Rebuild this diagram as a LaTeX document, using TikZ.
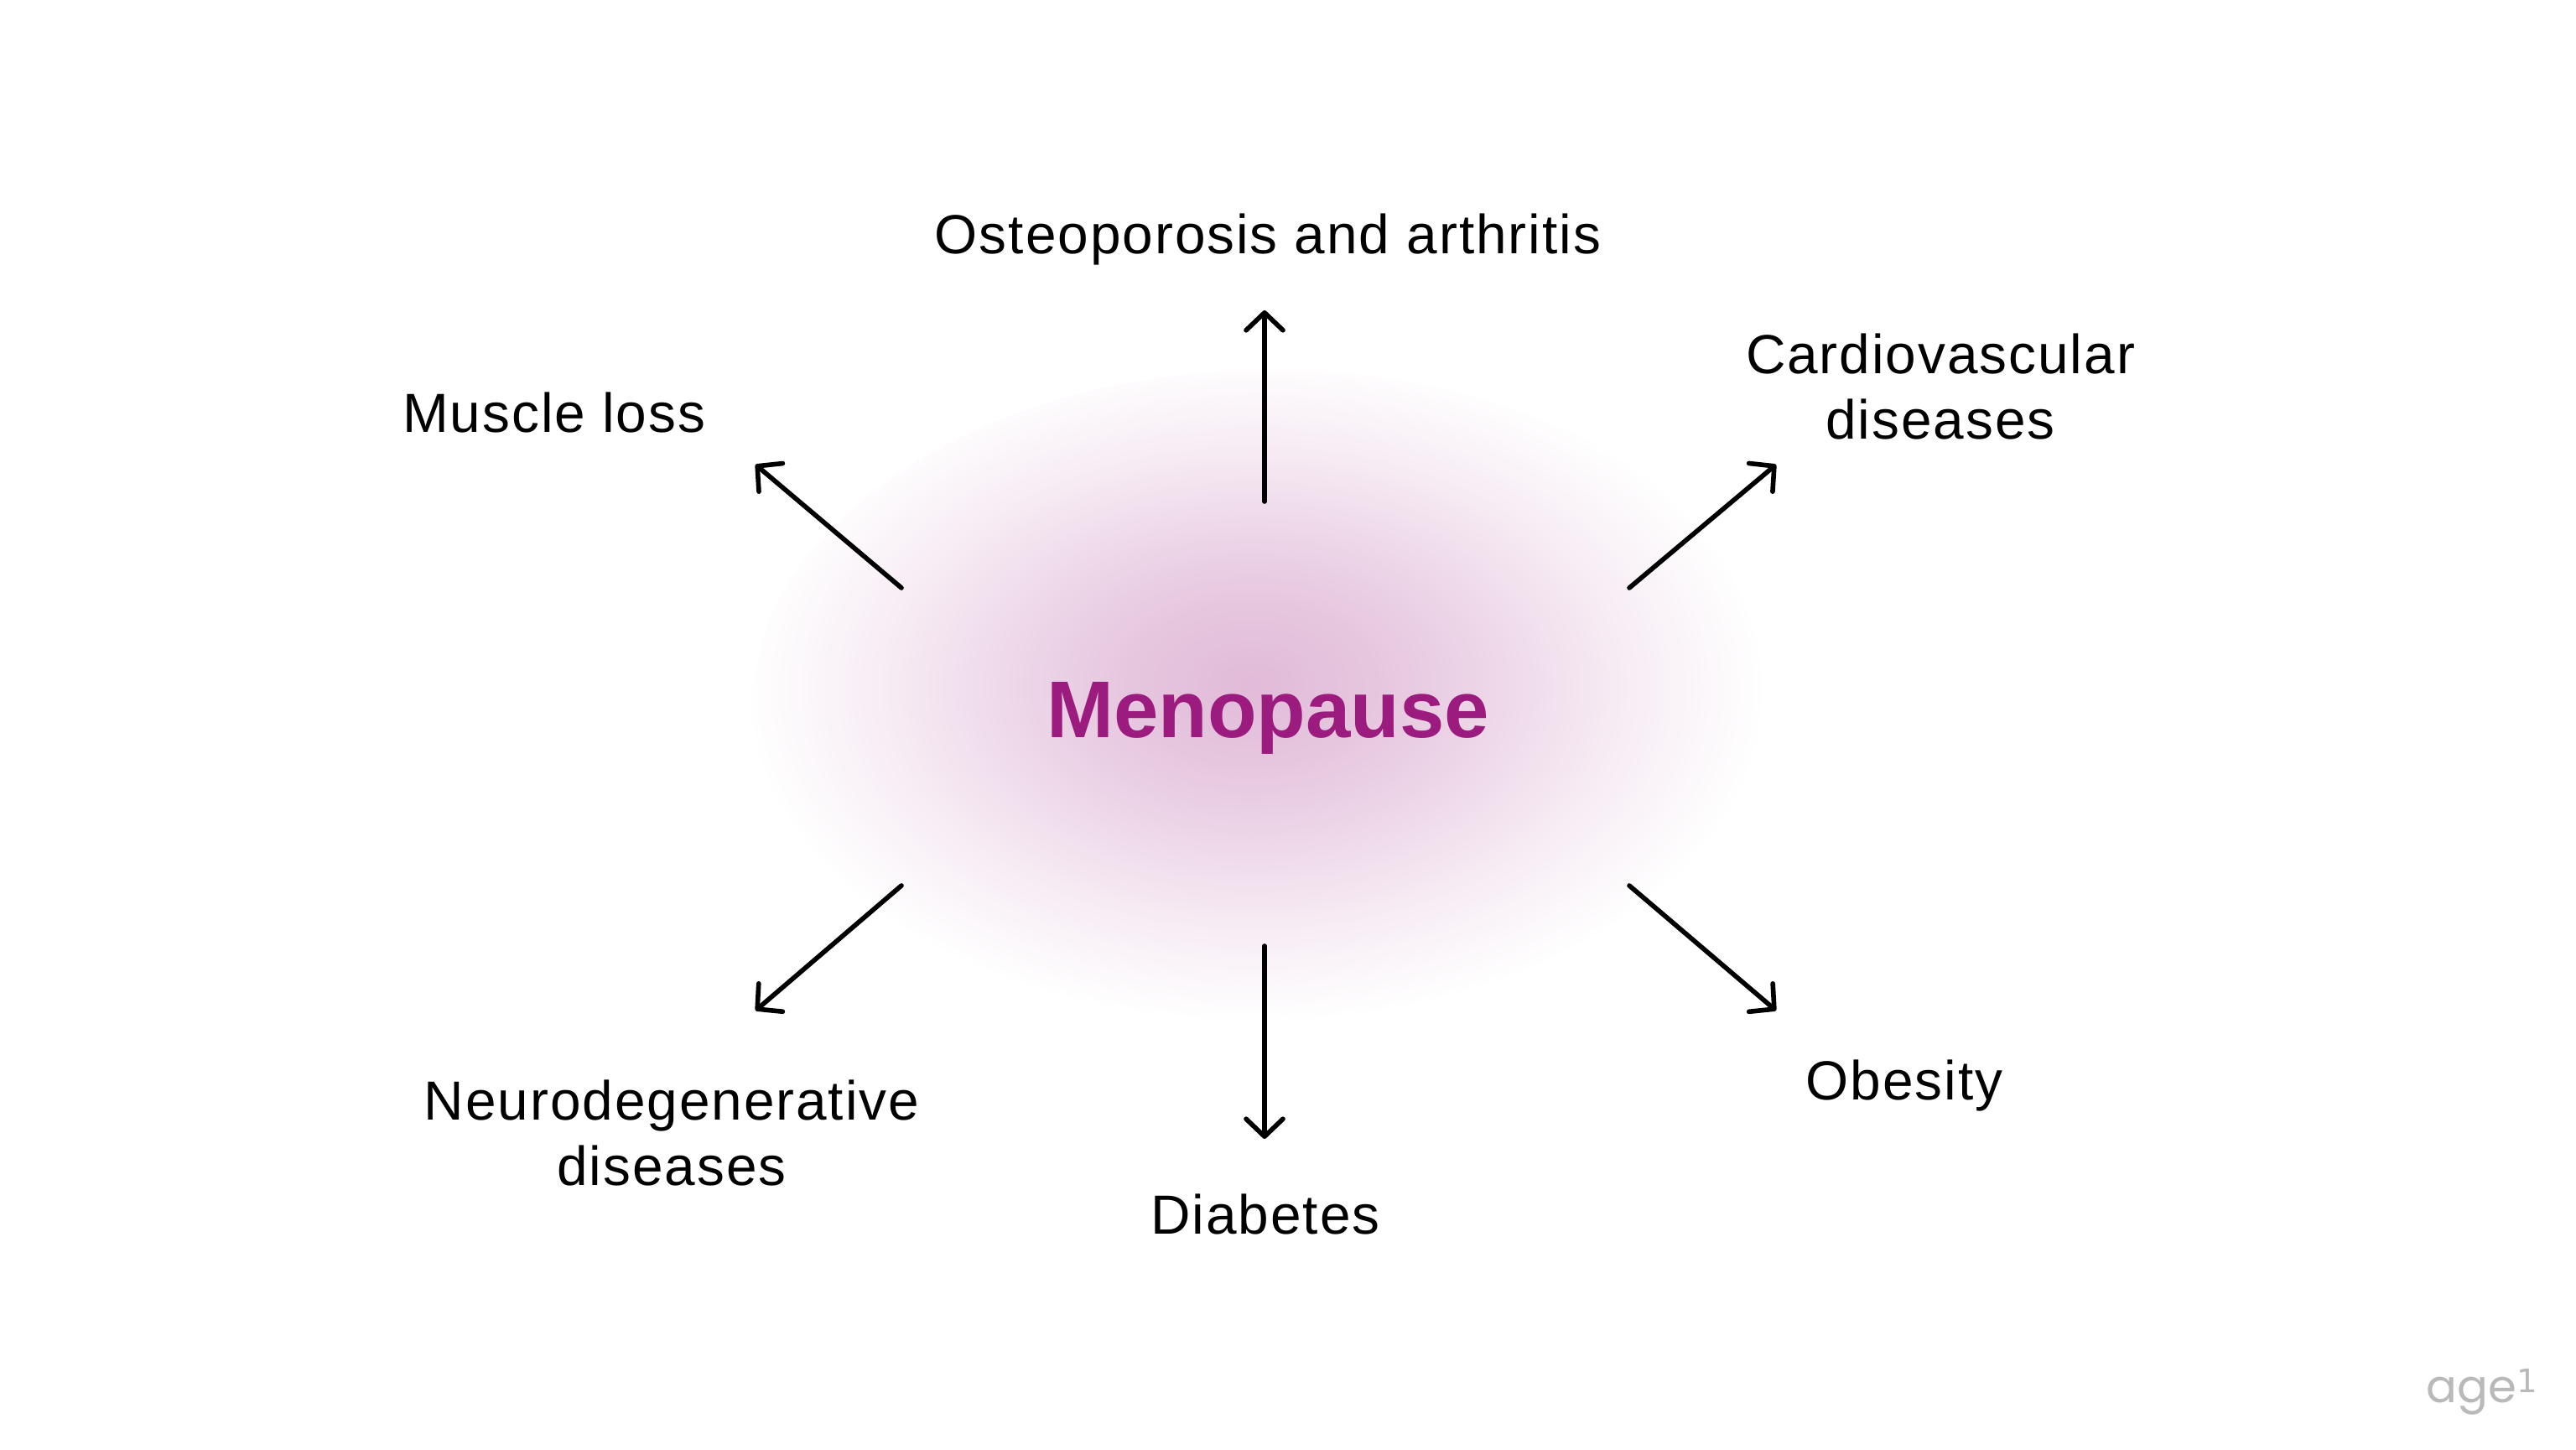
\documentclass[tikz,border=0pt]{standalone}
\usepackage{fontspec}
\setmainfont{Liberation Sans}
\newfontfamily\labelfont[LetterSpace=3]{Liberation Sans}
\newfontfamily\logofont{Poppins}
\newfontfamily\logonum{DejaVu Sans}
\usepackage{tikz}
\usetikzlibrary{positioning}
\usetikzlibrary{arrows.meta}
\definecolor{plum}{HTML}{9B1B7E}
\definecolor{logogray}{HTML}{B9B9B9}
\pgfdeclareradialshading{glow}{\pgfpoint{-1bp}{2bp}}{
  color(0bp)=(plum!30!white);
  color(6bp)=(plum!25!white);
  color(12bp)=(plum!17!white);
  color(18bp)=(plum!8!white);
  color(24.5bp)=(white);
  color(100bp)=(white)}
\tikzset{
  effect/.style={font=\labelfont\fontsize{18.7}{22.2}\selectfont,align=center,inner sep=0pt},
  link/.style={line width=1.6pt,line cap=round,-{Straight Barb[length=2.1mm,width=4.4mm,line width=1.6pt,round]}}
}
\begin{document}
\begin{tikzpicture}
    \useasboundingbox (0,0) rectangle (30.72,17.28);
    \fill[white] (0,0) rectangle (30.72,17.28);
    \shade[shading=glow] (15.16,8.82) ellipse [x radius=6.2cm,y radius=4.05cm];

    \node[inner sep=0pt,font=\bfseries\fontsize{27.3}{30}\selectfont,text=plum] (Meno) at (15.12,8.72) {Menopause};

    \coordinate (baseOA) at (15.08,11.30);
    \coordinate (tipOA) at (15.08,13.58);
    \coordinate (baseCV) at (19.43,10.27);
    \coordinate (tipCV) at (21.18,11.74);
    \coordinate (baseML) at (10.75,10.27);
    \coordinate (tipML) at (9.01,11.74);
    \coordinate (baseND) at (10.75,6.72);
    \coordinate (tipND) at (9.01,5.23);
    \coordinate (baseOB) at (19.43,6.72);
    \coordinate (tipOB) at (21.18,5.23);
    \coordinate (baseDB) at (15.08,6.00);
    \coordinate (tipDB) at (15.08,3.70);

    \node[effect] (OA) [above=0.53cm of tipOA,xshift=0.04cm] {Osteoporosis and arthritis};
    \node[effect] (CV) [above=0.29cm of tipCV,xshift=1.96cm] {Cardiovascular\\diseases};
    \node[effect] (ML) [above left=0.37cm and 0.59cm of tipML] {Muscle loss};
    \node[effect] (ND) [below=0.82cm of tipND,xshift=-1.00cm] {Neurodegenerative\\diseases};
    \node[effect] (OB) [below=0.58cm of tipOB,xshift=1.53cm] {Obesity};
    \node[effect] (DB) [below=0.65cm of tipDB,xshift=0.01cm] {Diabetes};

    \path [link] (baseOA) edge (tipOA)
          (baseCV) edge (tipCV)
          (baseML) edge (tipML)
          (baseND) edge (tipND)
          (baseOB) edge (tipOB)
          (baseDB) edge (tipDB);

    \node[inner sep=0pt,anchor=base west,font=\logofont\fontsize{15.5}{16}\selectfont,text=logogray] (Logo) at (28.93,0.56) {age\raisebox{3.4pt}{\logonum\fontsize{11}{11}\selectfont 1}};
\end{tikzpicture}
\end{document}
